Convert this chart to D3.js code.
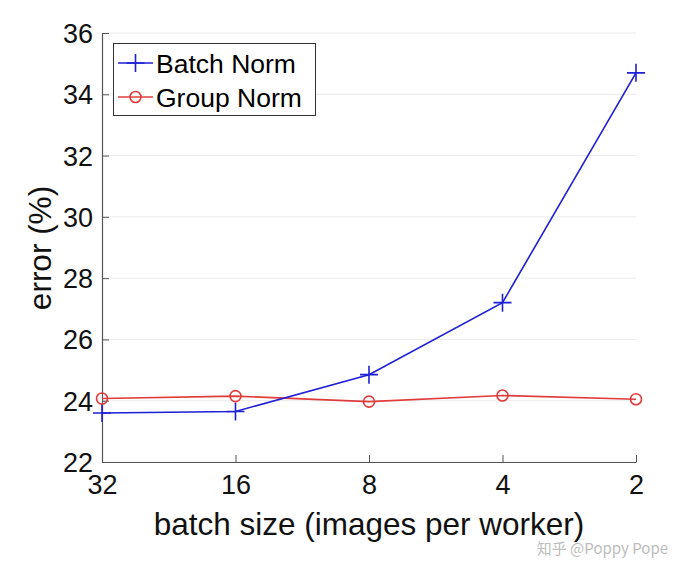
<!DOCTYPE html>
<html><head><meta charset="utf-8">
<script src="https://cdn.jsdelivr.net/npm/d3@7"></script>
<style>body{margin:0;background:#fff;}svg{display:block;font-family:"Liberation Sans",Arial,Helvetica,sans-serif;}</style>
</head><body><svg id="c" width="686" height="582"></svg>
<script>
const batchSizes = [32, 16, 8, 4, 2];
const batchNorm = [23.6, 23.65, 24.85, 27.2, 34.7];
const groupNorm = [24.07, 24.15, 23.97, 24.17, 24.05];
const yTicks = [22, 24, 26, 28, 30, 32, 34, 36];
const seriesNames = ["Batch Norm", "Group Norm"];
const seriesColors = ["#1f1fd6", "#e03c3c"];

const svg = d3.select("#c");
const L = 102, R = 636, T = 33, B = 462;
const x = d3.scaleLog().base(2).domain([32, 2]).range([L, R]);
const y = d3.scaleLinear().domain([22, 36]).range([B, T]);

// gridlines
svg.append("g").selectAll("line").data(yTicks).join("line")
  .attr("x1", L).attr("x2", R).attr("y1", d => y(d)).attr("y2", d => y(d))
  .attr("stroke", "#ebebeb").attr("stroke-width", 1);

// axes
const xAxis = d3.axisBottom(x).tickValues(batchSizes).tickFormat(d3.format("d")).tickSizeInner(-7).tickSizeOuter(0).tickPadding(13);
const gx = svg.append("g").attr("transform", `translate(0,${B})`).call(xAxis);
const yAxis = d3.axisLeft(y).tickValues(yTicks).tickSizeInner(-7).tickSizeOuter(0).tickPadding(9);
const gy = svg.append("g").attr("transform", `translate(${L},0)`).call(yAxis);
[gx, gy].forEach(g => {
  g.select(".domain").attr("stroke", "#555").attr("stroke-width", 1.2);
  g.selectAll(".tick line").attr("stroke", "#555");
  g.selectAll(".tick text").attr("font-size", 27).attr("fill", "#111").attr("font-family", "Liberation Sans, Arial, sans-serif");
});
gx.selectAll(".tick text").attr("dy", "0.71em");
gy.selectAll(".tick text").attr("dy", "0.35em");

// lines
const line = d3.line().x((d, i) => x(batchSizes[i])).y(d => y(d));
svg.append("path").datum(groupNorm).attr("d", line).attr("fill", "none").attr("stroke", seriesColors[1]).attr("stroke-width", 1.6);
svg.append("path").datum(batchNorm).attr("d", line).attr("fill", "none").attr("stroke", seriesColors[0]).attr("stroke-width", 1.6);

function plus(g, cx, cy, c) {
  g.append("path").attr("d", `M${cx-9},${cy}H${cx+9}M${cx},${cy-9}V${cy+9}`).attr("stroke", c).attr("stroke-width", 1.6).attr("fill", "none");
}
function circ(g, cx, cy, c) {
  g.append("circle").attr("cx", cx).attr("cy", cy).attr("r", 5.5).attr("stroke", c).attr("stroke-width", 1.6).attr("fill", "none");
}
const mg = svg.append("g");
batchNorm.forEach((v, i) => plus(mg, x(batchSizes[i]), y(v), seriesColors[0]));
groupNorm.forEach((v, i) => circ(mg, x(batchSizes[i]), y(v), seriesColors[1]));

// legend
const lg = svg.append("g");
lg.append("rect").attr("x", 113.5).attr("y", 43.5).attr("width", 202).attr("height", 72).attr("fill", "#fff").attr("stroke", "#333").attr("stroke-width", 1);
[0, 1].forEach(i => {
  const ly = 63 + i * 34;
  lg.append("line").attr("x1", 118).attr("x2", 153).attr("y1", ly).attr("y2", ly).attr("stroke", seriesColors[i]).attr("stroke-width", 1.6);
  if (i === 0) plus(lg, 135.5, ly, seriesColors[0]); else circ(lg, 135.5, ly, seriesColors[1]);
  lg.append("text").attr("x", 156).attr("y", ly).attr("dy", "0.36em").attr("font-size", 26.5).attr("fill", "#000").text(seriesNames[i]);
});

// axis titles
svg.append("text").attr("x", 369).attr("y", 535).attr("text-anchor", "middle").attr("font-size", 31.5).attr("fill", "#111").text("batch size (images per worker)");
svg.append("text").attr("transform", "translate(51,248) rotate(-90)").attr("text-anchor", "middle").attr("font-size", 31.5).attr("fill", "#111").text("error (%)");

// watermark
svg.append("text").attr("x", 668).attr("y", 554).attr("text-anchor", "end").attr("font-size", 15).attr("fill", "#bdbdbd").attr("font-family", "Noto Sans CJK SC, sans-serif").text("知乎 @Poppy Pope");
</script></body></html>
